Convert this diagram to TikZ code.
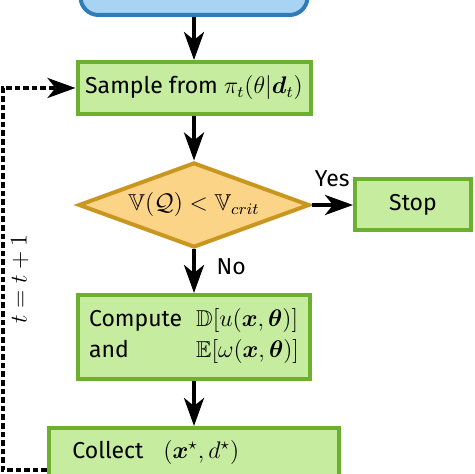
\documentclass[tikz,border=0pt]{standalone}
\usepackage{fontspec}
\setmainfont{Fira Sans}
\usepackage{amsmath,amssymb,bm}
\usetikzlibrary{shapes.geometric,arrows.meta}

\definecolor{boxgreen}{HTML}{C6ECA0}
\definecolor{boxgreenline}{HTML}{6BB02F}
\definecolor{decfill}{HTML}{FCD488}
\definecolor{decline}{HTML}{C9961F}
\definecolor{startfill}{HTML}{A8D3F2}
\definecolor{startline}{HTML}{2F7CB6}

\begin{document}
\begin{tikzpicture}[x=0.5pt, y=-0.5pt,
    font=\fontsize{11.5}{13.5}\selectfont,
    stepbox/.style={rectangle, draw=boxgreenline, fill=boxgreen, line width=2pt},
    decision/.style={diamond, draw=decline, fill=decfill, line width=2pt, inner sep=0pt, aspect=2.7},
    arr/.style={line width=2pt, -{Stealth[length=14pt, width=10pt, inset=4pt]}},
    loopback/.style={arr, dash pattern=on 2.8pt off 1.5pt}]

   \useasboundingbox (0,0) rectangle (474,474);
   \clip (0,0) rectangle (474,474);

   \node [rectangle, rounded corners=9pt, draw=startline, fill=startfill, line width=2pt,
          minimum width=113.5pt, minimum height=32pt]
      (start) at (194,-17) {};
   \node [stepbox, minimum width=116.5pt, minimum height=26pt]
      (sample) at (194,88) {Sample from $\pi_t(\theta|\bm{d}_t)$};
   \node [decision, minimum width=115.5pt, minimum height=42.5pt]
      (crit) at (194,205) {$\mathbb{V}(\mathcal{Q}) < \mathbb{V}_{crit}$};
   \node [stepbox, minimum width=58pt, minimum height=25.5pt]
      (stop) at (413,205) {Stop};
   \node [stepbox, minimum width=116pt, minimum height=42pt]
      (compute) at (194,337) {\begin{tabular}{@{}l@{\hspace{7pt}}l@{}}
         Compute & $\mathbb{D}[u(\bm{x},\bm{\theta})]$\\[2pt]
         and & $\mathbb{E}[\omega(\bm{x},\bm{\theta})]$
      \end{tabular}};
   \node [stepbox, minimum width=145pt, minimum height=42pt]
      (collect) at (194,470) {};
   \node [anchor=base west, inner sep=0pt]
      (collecttxt) at (72,458) {Collect\hspace{10pt}$(\bm{x}^\star, d^\star)$};

   \foreach \i/\j in {start/sample, sample/crit, compute/collect}
      \draw[arr] (\i) -- (\j);
   \draw[arr] (crit) -- node[above=5pt]{Yes} (stop);
   \draw[arr] (crit) -- node[right=7pt, pos=0.4]{No} (compute);

   % loop back to sampling
   \coordinate (loopbot) at (2.5,470);
   \coordinate (looptop) at (2.5,88);
   \draw[loopback] (collect.west) -- (loopbot)
      -- node[midway, sloped, below]{$t=t+1$} (looptop) -- (sample.west);

\end{tikzpicture}
\end{document}
